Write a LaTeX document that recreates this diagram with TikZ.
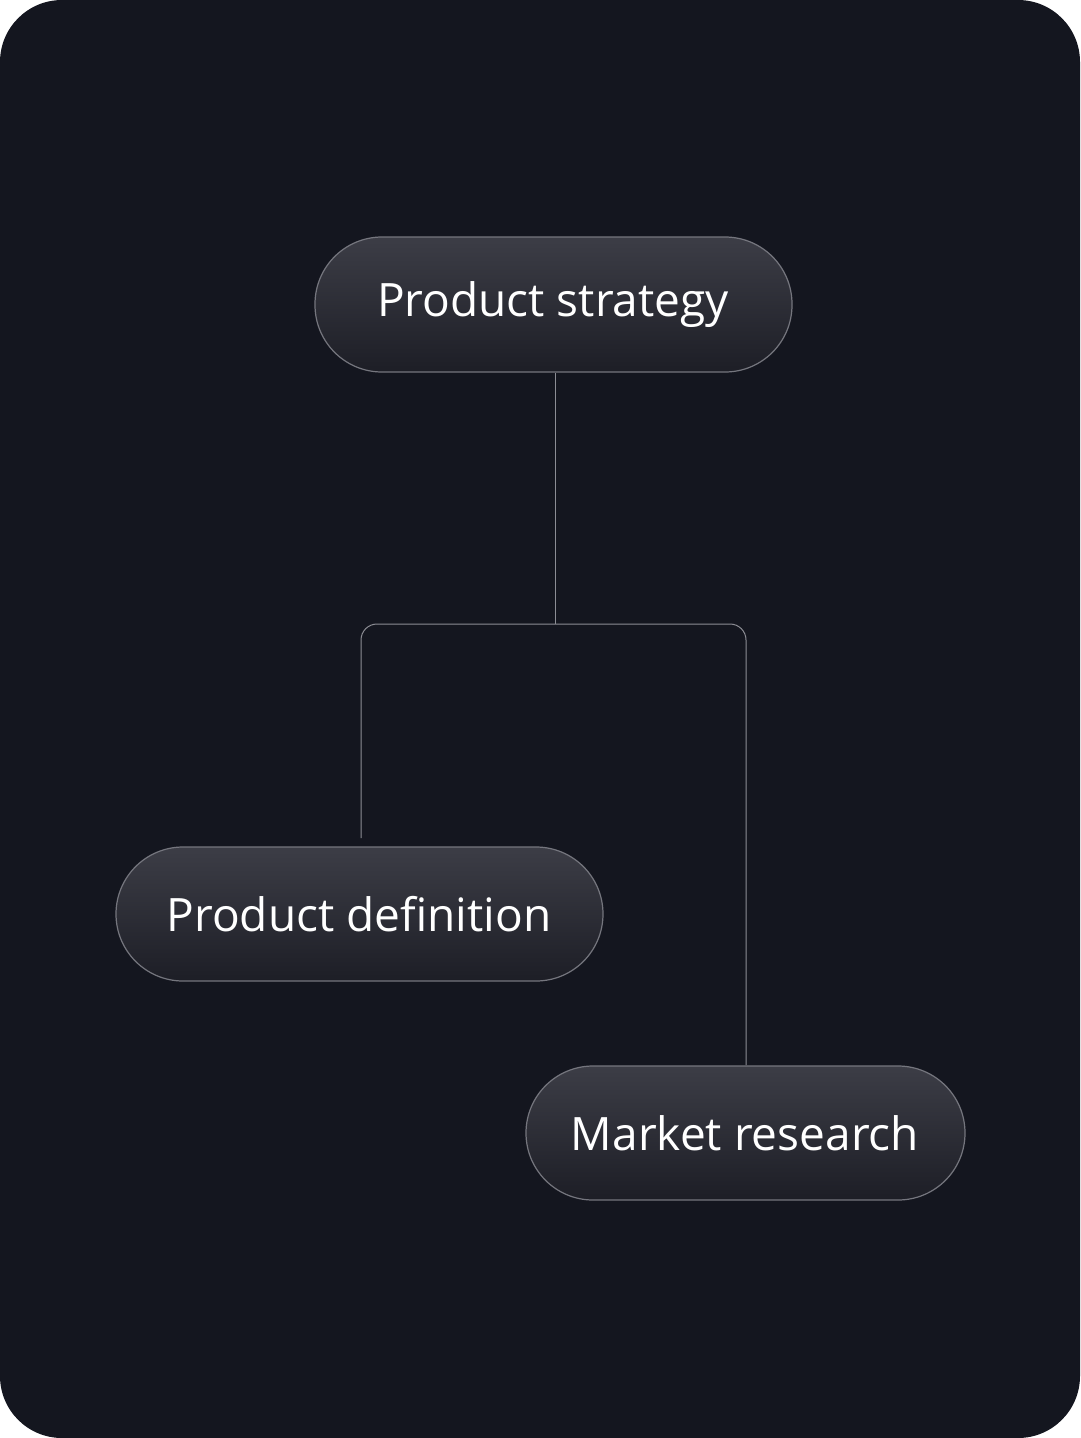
\documentclass[tikz,border=0pt]{standalone}
\usepackage{fontspec}
\setmainfont{Open Sans}
\definecolor{bg}{HTML}{14161F}
\definecolor{ntop}{HTML}{3C3D46}
\definecolor{nbot}{HTML}{1D1E26}
\definecolor{nborder}{HTML}{75767E}
\definecolor{wire}{HTML}{8C8D94}
\begin{document}
\begin{tikzpicture}[x=1pt,y=-1pt,
  pill/.style={rounded corners=67pt, draw=nborder, line width=1.2pt, top color=ntop, bottom color=nbot},
  lbl/.style={text=white, font=\fontsize{46}{50}\selectfont},
  wirestyle/.style={draw=wire, line width=1pt, rounded corners=16pt}]
\useasboundingbox (0,0) rectangle (1080,1438);
\fill[white] (0,0) rectangle (1080,1438);
\fill[bg, rounded corners=62pt] (0,0) rectangle (1080,1438);
\draw[pill] (315,237) rectangle (792,372);
\node[lbl] (ps) at (553,305) {Product strategy};
\draw[pill] (116,847) rectangle (603,981);
\node[lbl] (pd) at (359,914) {Product definition};
\draw[pill] (526,1066) rectangle (965,1200);
\node[lbl] (mr) at (745,1133) {Market research};
\coordinate (a) at (555,373);
\coordinate (j) at (555,624);
\coordinate (l) at (361,838);
\coordinate (r) at (746,1065);
\draw[wirestyle] (a) -- (j);
\draw[wirestyle] (l) -- (361,624) -- (746,624) -- (r);
\end{tikzpicture}
\end{document}
